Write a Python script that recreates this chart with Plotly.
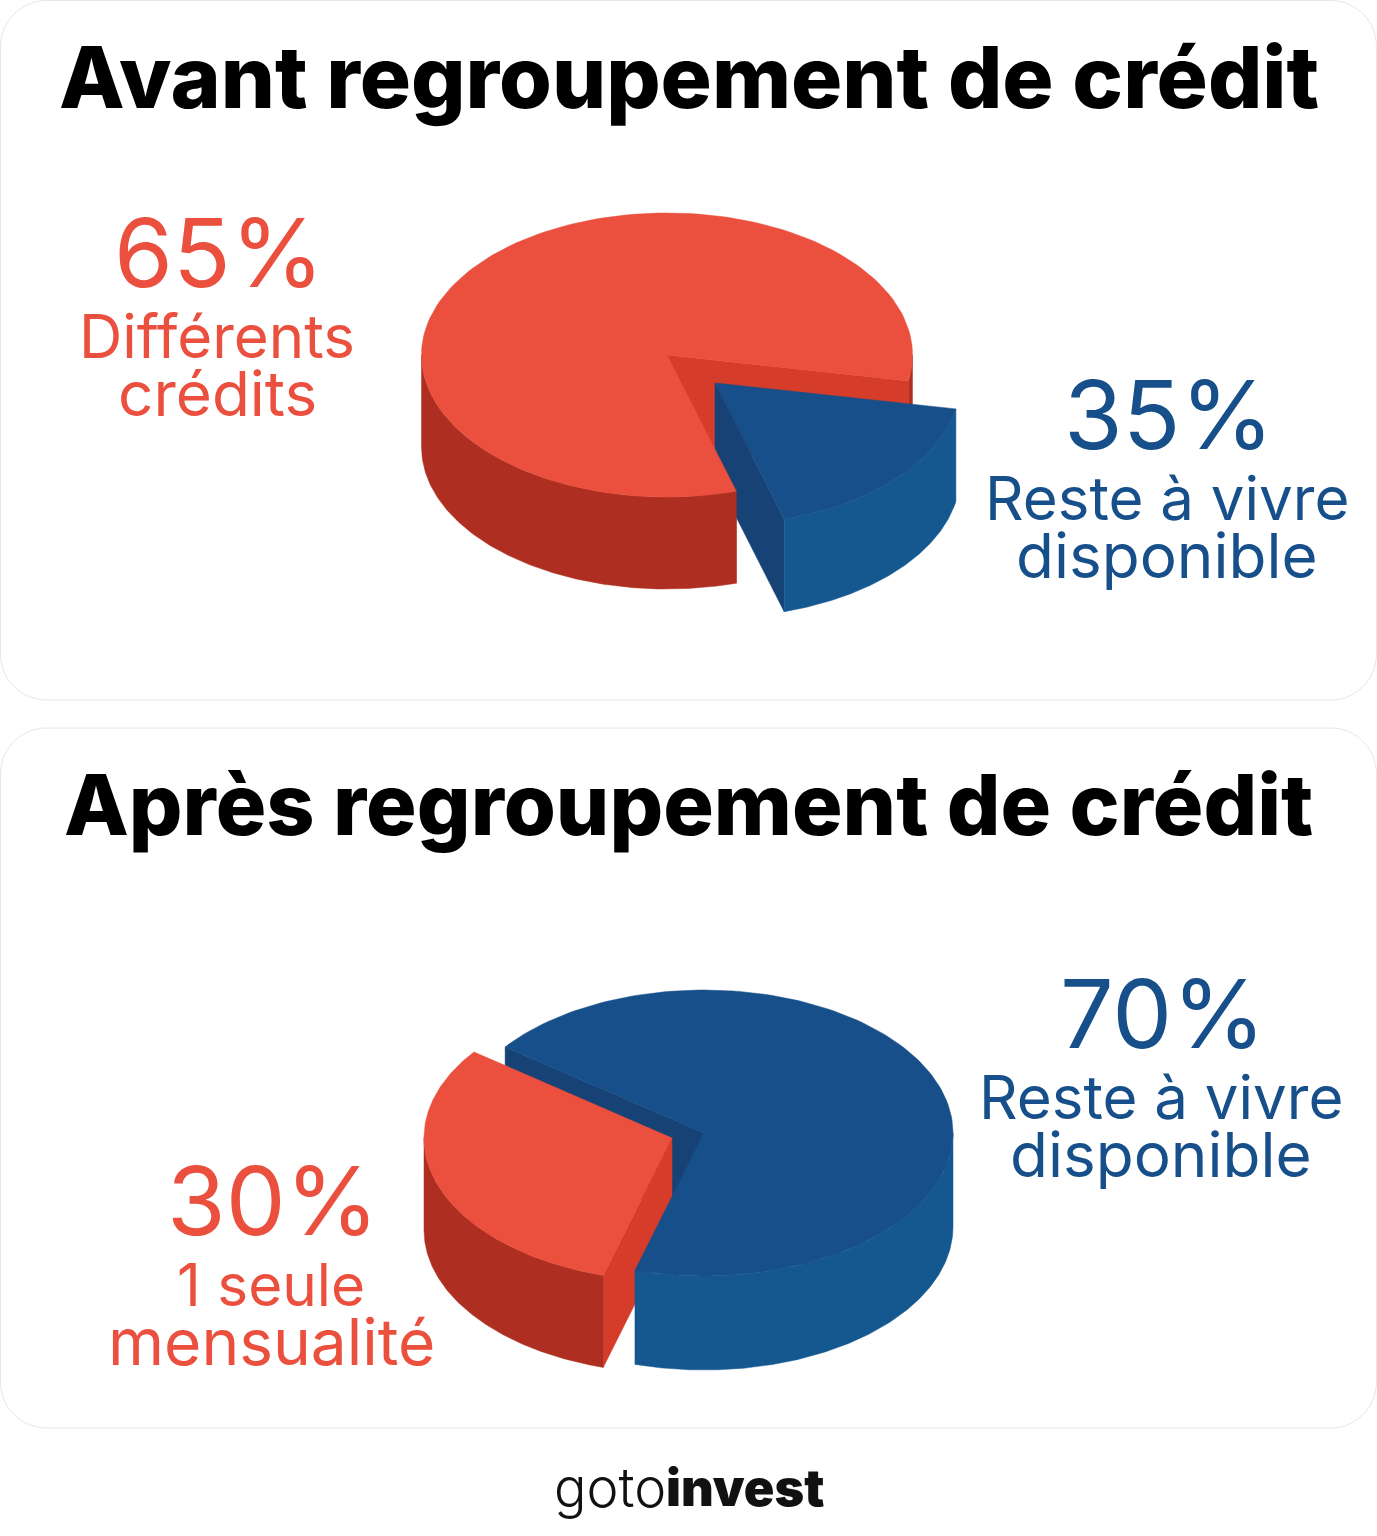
import numpy as np
import plotly.graph_objects as go

# --- content ---
titles = ["Avant regroupement de crédit", "Après regroupement de crédit"]
categories_before = ["Différents crédits", "Reste à vivre disponible"]
shares_before = [65, 35]
categories_after = ["1 seule mensualité", "Reste à vivre disponible"]
shares_after = [30, 70]
# slice boundaries as drawn in the picture (degrees on the ellipse, clockwise from 3 o'clock)
cut_before = [10.5, 73.6]
cut_after = [106.1, 217.0]
brand = ["goto", "invest"]

RED_TOP, RED_SIDE, RED_WALL = "#eb4f3d", "#ae2f21", "#d63c2a"
BLUE_TOP, BLUE_SIDE, BLUE_WALL = "#174f8a", "#155890", "#164276"
RED_TXT, BLUE_TXT = "#eb4f3d", "#174f8a"
FONT = "Inter"

fig = go.Figure()


def poly(xs, ys, color):
    fig.add_trace(go.Scatter(x=xs, y=ys, mode="lines", fill="toself", fillcolor=color,
                             line=dict(color=color, width=0.5), hoverinfo="skip", showlegend=False))


def arc(c, r, t0, t1):
    t = np.radians(np.linspace(t0, t1, 160))
    return c[0] + r[0] * np.cos(t), c[1] + r[1] * np.sin(t)


def top(c, r, t0, t1, color):
    x, y = arc(c, r, t0, t1)
    poly([c[0], *x, c[0]], [c[1], *y, c[1]], color)


def side(c, r, d, t0, t1, color):
    x, y = arc(c, r, t0, t1)
    poly([*x, *x[::-1], x[0]], [*y, *(y[::-1] + d), y[0]], color)


def wall(c, r, d, t, color):
    x, y = arc(c, r, t, t)
    poly([c[0], x[0], x[0], c[0], c[0]], [c[1], y[0], y[0] + d, c[1] + d, c[1]], color)


# --- first pie ---
a, b = cut_before
c_red, r_red, d_red = (667, 355), (245.5, 142), 92
c_blue, r_blue, d_blue = (715, 383), (245, 142), 92.5
side(c_red, r_red, d_red, 0, a, RED_SIDE)
wall(c_red, r_red, d_red, a, RED_WALL)
wall(c_red, r_red, d_red, b, RED_WALL)
wall(c_blue, r_blue, d_blue, b, BLUE_WALL)
side(c_blue, r_blue, d_blue, a, b, BLUE_SIDE)
top(c_blue, r_blue, a, b, BLUE_TOP)
side(c_red, r_red, d_red, b, 180, RED_SIDE)
top(c_red, r_red, b, a + 360, RED_TOP)

# --- second pie ---
a, b = cut_after
c_blue, r_blue, d_blue = (704, 1133), (249, 143), 94
c_red, r_red, d_red = (672, 1138), (248, 143), 92
wall(c_blue, r_blue, d_blue, b, BLUE_WALL)
wall(c_red, r_red, d_red, a, RED_WALL)
side(c_red, r_red, d_red, a, 180, RED_SIDE)
top(c_red, r_red, a, b, RED_TOP)
side(c_blue, r_blue, d_blue, 0, a, BLUE_SIDE)
top(c_blue, r_blue, b, a + 360, BLUE_TOP)


def label(x, y, text, size, color, weight=400, anchor="center"):
    fig.add_annotation(x=x, y=y, xref="x", yref="y", text=text, showarrow=False, xanchor=anchor,
                       yanchor="middle", align="center",
                       font=dict(family=FONT, size=size, color=color, weight=weight),
                       borderpad=0, borderwidth=0)


label(688.5, 77, titles[0], 85.4, "#000000", 800)
label(688.5, 804, titles[1], 84.3, "#000000", 800)

label(219, 252, f"{shares_before[0]}%", 95, RED_TXT)
label(217, 336, "Différents", 60, RED_TXT)
label(217, 393, "crédits", 62, RED_TXT)

label(1169, 414, f"{shares_before[1]}%", 95, BLUE_TXT)
label(1167, 498, "Reste à vivre", 60, BLUE_TXT)
label(1167, 555, "disponible", 62, BLUE_TXT)

label(1163, 1013, f"{shares_after[1]}%", 95, BLUE_TXT)
label(1161, 1097, "Reste à vivre", 60, BLUE_TXT)
label(1161, 1154, "disponible", 62, BLUE_TXT)

label(273, 1200, f"{shares_after[0]}%", 95, RED_TXT)
label(271, 1284, "1 seule", 58.5, RED_TXT)
label(271, 1341, "mensualité", 64, RED_TXT)

label(666, 1487, brand[0], 54, "#111111", 300, "right")
label(666, 1487, brand[1], 50.5, "#111111", 900, "left")

R = 46
K = 0.5523 * R
for y0, y1 in [(0.5, 700), (728, 1428)]:
    xl, xr = 0.5, 1376.5
    path = (f"M {xl+R},{y0} L {xr-R},{y0} C {xr-R+K},{y0} {xr},{y0+R-K} {xr},{y0+R} L {xr},{y1-R} "
            f"C {xr},{y1-R+K} {xr-R+K},{y1} {xr-R},{y1} L {xl+R},{y1} "
            f"C {xl+R-K},{y1} {xl},{y1-R+K} {xl},{y1-R} L {xl},{y0+R} "
            f"C {xl},{y0+R-K} {xl+R-K},{y0} {xl+R},{y0} Z")
    fig.add_shape(type="path", path=path, xref="x", yref="y", layer="below",
                  line=dict(color="#e6e6e6", width=1), fillcolor="#ffffff")

fig.update_layout(
    width=1377, height=1536, margin=dict(l=0, r=0, t=0, b=0),
    paper_bgcolor="#ffffff", plot_bgcolor="#ffffff", showlegend=False,
    xaxis=dict(range=[0, 1377], visible=False, fixedrange=True),
    yaxis=dict(range=[1536, 0], visible=False, fixedrange=True),
)
fig.write_html("out.html", config=dict(displayModeBar=False),
               post_script="document.body.style.margin='0';document.body.style.overflow='hidden';")
